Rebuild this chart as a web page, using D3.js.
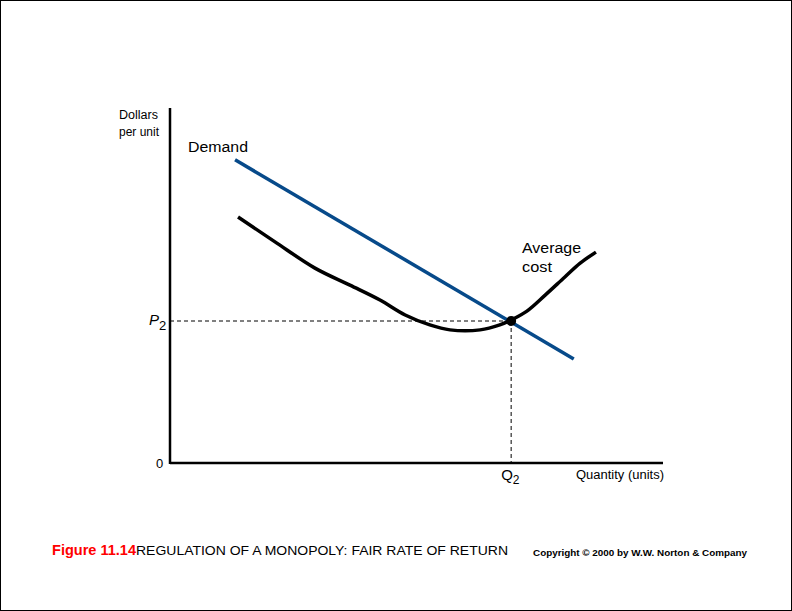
<!DOCTYPE html>
<html>
<head>
<meta charset="utf-8">
<script src="https://cdn.jsdelivr.net/npm/d3@7"></script>
<style>
  body { margin: 0; background: #fff; }
  text { font-family: Arial, "Liberation Sans", sans-serif; }
</style>
</head>
<body>
<div id="chart"></div>
<script>
// Data (quantity, dollars) in chart units
const demandQ = [1.32, 8.19];
const demandP = [8.54, 2.93];

const costQ = [1.38, 2.13, 2.94, 3.65, 4.26, 4.77, 5.27, 5.68, 6.29, 6.69, 6.92, 7.24, 7.61, 8.01, 8.32, 8.64];
const costP = [6.93, 6.23, 5.49, 5.01, 4.59, 4.17, 3.89, 3.75, 3.75, 3.89, 4.03, 4.28, 4.73, 5.24, 5.63, 5.94];

const eqQ = 6.92;   // Q2
const eqP = 4.0;    // P2

const W = 792, H = 611;
const margin = { left: 170, right: 129, top: 108, bottom: 148 };

const svg = d3.select("#chart").append("svg")
    .attr("width", W)
    .attr("height", H);

// frame
svg.append("rect")
    .attr("x", 0.5).attr("y", 0.5)
    .attr("width", W - 1).attr("height", H - 1)
    .attr("fill", "#fff").attr("stroke", "#000");

const x = d3.scaleLinear().domain([0, 10]).range([margin.left, W - margin.right]);
const y = d3.scaleLinear().domain([0, 10]).range([H - margin.bottom, margin.top]);

// dashed guides
svg.append("line")
    .attr("x1", x(0)).attr("x2", x(eqQ))
    .attr("y1", y(eqP)).attr("y2", y(eqP))
    .attr("stroke", "#000").attr("stroke-width", 1)
    .attr("stroke-dasharray", "4,3");
svg.append("line")
    .attr("x1", x(eqQ)).attr("x2", x(eqQ))
    .attr("y1", y(eqP)).attr("y2", y(0))
    .attr("stroke", "#000").attr("stroke-width", 1)
    .attr("stroke-dasharray", "4,3");

// axes
svg.append("line")
    .attr("x1", x(0)).attr("x2", x(0))
    .attr("y1", y(10)).attr("y2", y(0) + 1)
    .attr("stroke", "#000").attr("stroke-width", 2.5);
svg.append("line")
    .attr("x1", x(0)).attr("x2", x(10))
    .attr("y1", y(0)).attr("y2", y(0))
    .attr("stroke", "#000").attr("stroke-width", 2.5);

// demand line
const demand = demandQ.map((q, i) => [q, demandP[i]]);
svg.append("path")
    .datum(demand)
    .attr("d", d3.line().x(d => x(d[0])).y(d => y(d[1])))
    .attr("fill", "none")
    .attr("stroke", "#074a8a")
    .attr("stroke-width", 3.5);

// average cost curve
const cost = costQ.map((q, i) => [q, costP[i]]);
svg.append("path")
    .datum(cost)
    .attr("d", d3.line().curve(d3.curveCatmullRom).x(d => x(d[0])).y(d => y(d[1])))
    .attr("fill", "none")
    .attr("stroke", "#000")
    .attr("stroke-width", 3.5);

// equilibrium point
svg.append("circle")
    .attr("cx", x(eqQ)).attr("cy", y(eqP))
    .attr("r", 5).attr("fill", "#000");

// labels
const lbl = (tx, ty, s, size, len) => {
    const t = svg.append("text").attr("x", tx).attr("y", ty)
        .attr("font-size", size).text(s);
    if (len) t.attr("textLength", len).attr("lengthAdjust", "spacingAndGlyphs");
    return t;
};

lbl(119, 119, "Dollars", 12, 39);
lbl(119, 136, "per unit", 12, 40);
lbl(188, 152, "Demand", 15.5, 60);
lbl(522, 253, "Average", 15.5, 59);
lbl(522, 272, "cost", 15.5, 30);

// P2
const p2 = svg.append("text").attr("x", 149).attr("y", y(eqP) + 4).attr("font-size", 15);
p2.append("tspan").attr("font-style", "italic").text("P");
p2.append("tspan").attr("dy", 5).attr("font-size", 13).text("2");

// 0
lbl(156, 468, "0", 13);

// Q2
const q2 = svg.append("text").attr("x", x(eqQ) - 10).attr("y", 480).attr("font-size", 15);
q2.append("tspan").text("Q");
q2.append("tspan").attr("dy", 4).attr("font-size", 12).text("2");

lbl(576, 479, "Quantity (units)", 12.5, 88);

// caption
lbl(52, 555, "Figure 11.14", 14, 84).attr("fill", "#f00").attr("font-weight", "bold");
lbl(136, 555, "REGULATION OF A MONOPOLY: FAIR RATE OF RETURN", 13.5, 372);
lbl(533, 556, "Copyright \u00a9 2000 by W.W. Norton & Company", 9.5, 214).attr("font-weight", "bold");
</script>
</body>
</html>
